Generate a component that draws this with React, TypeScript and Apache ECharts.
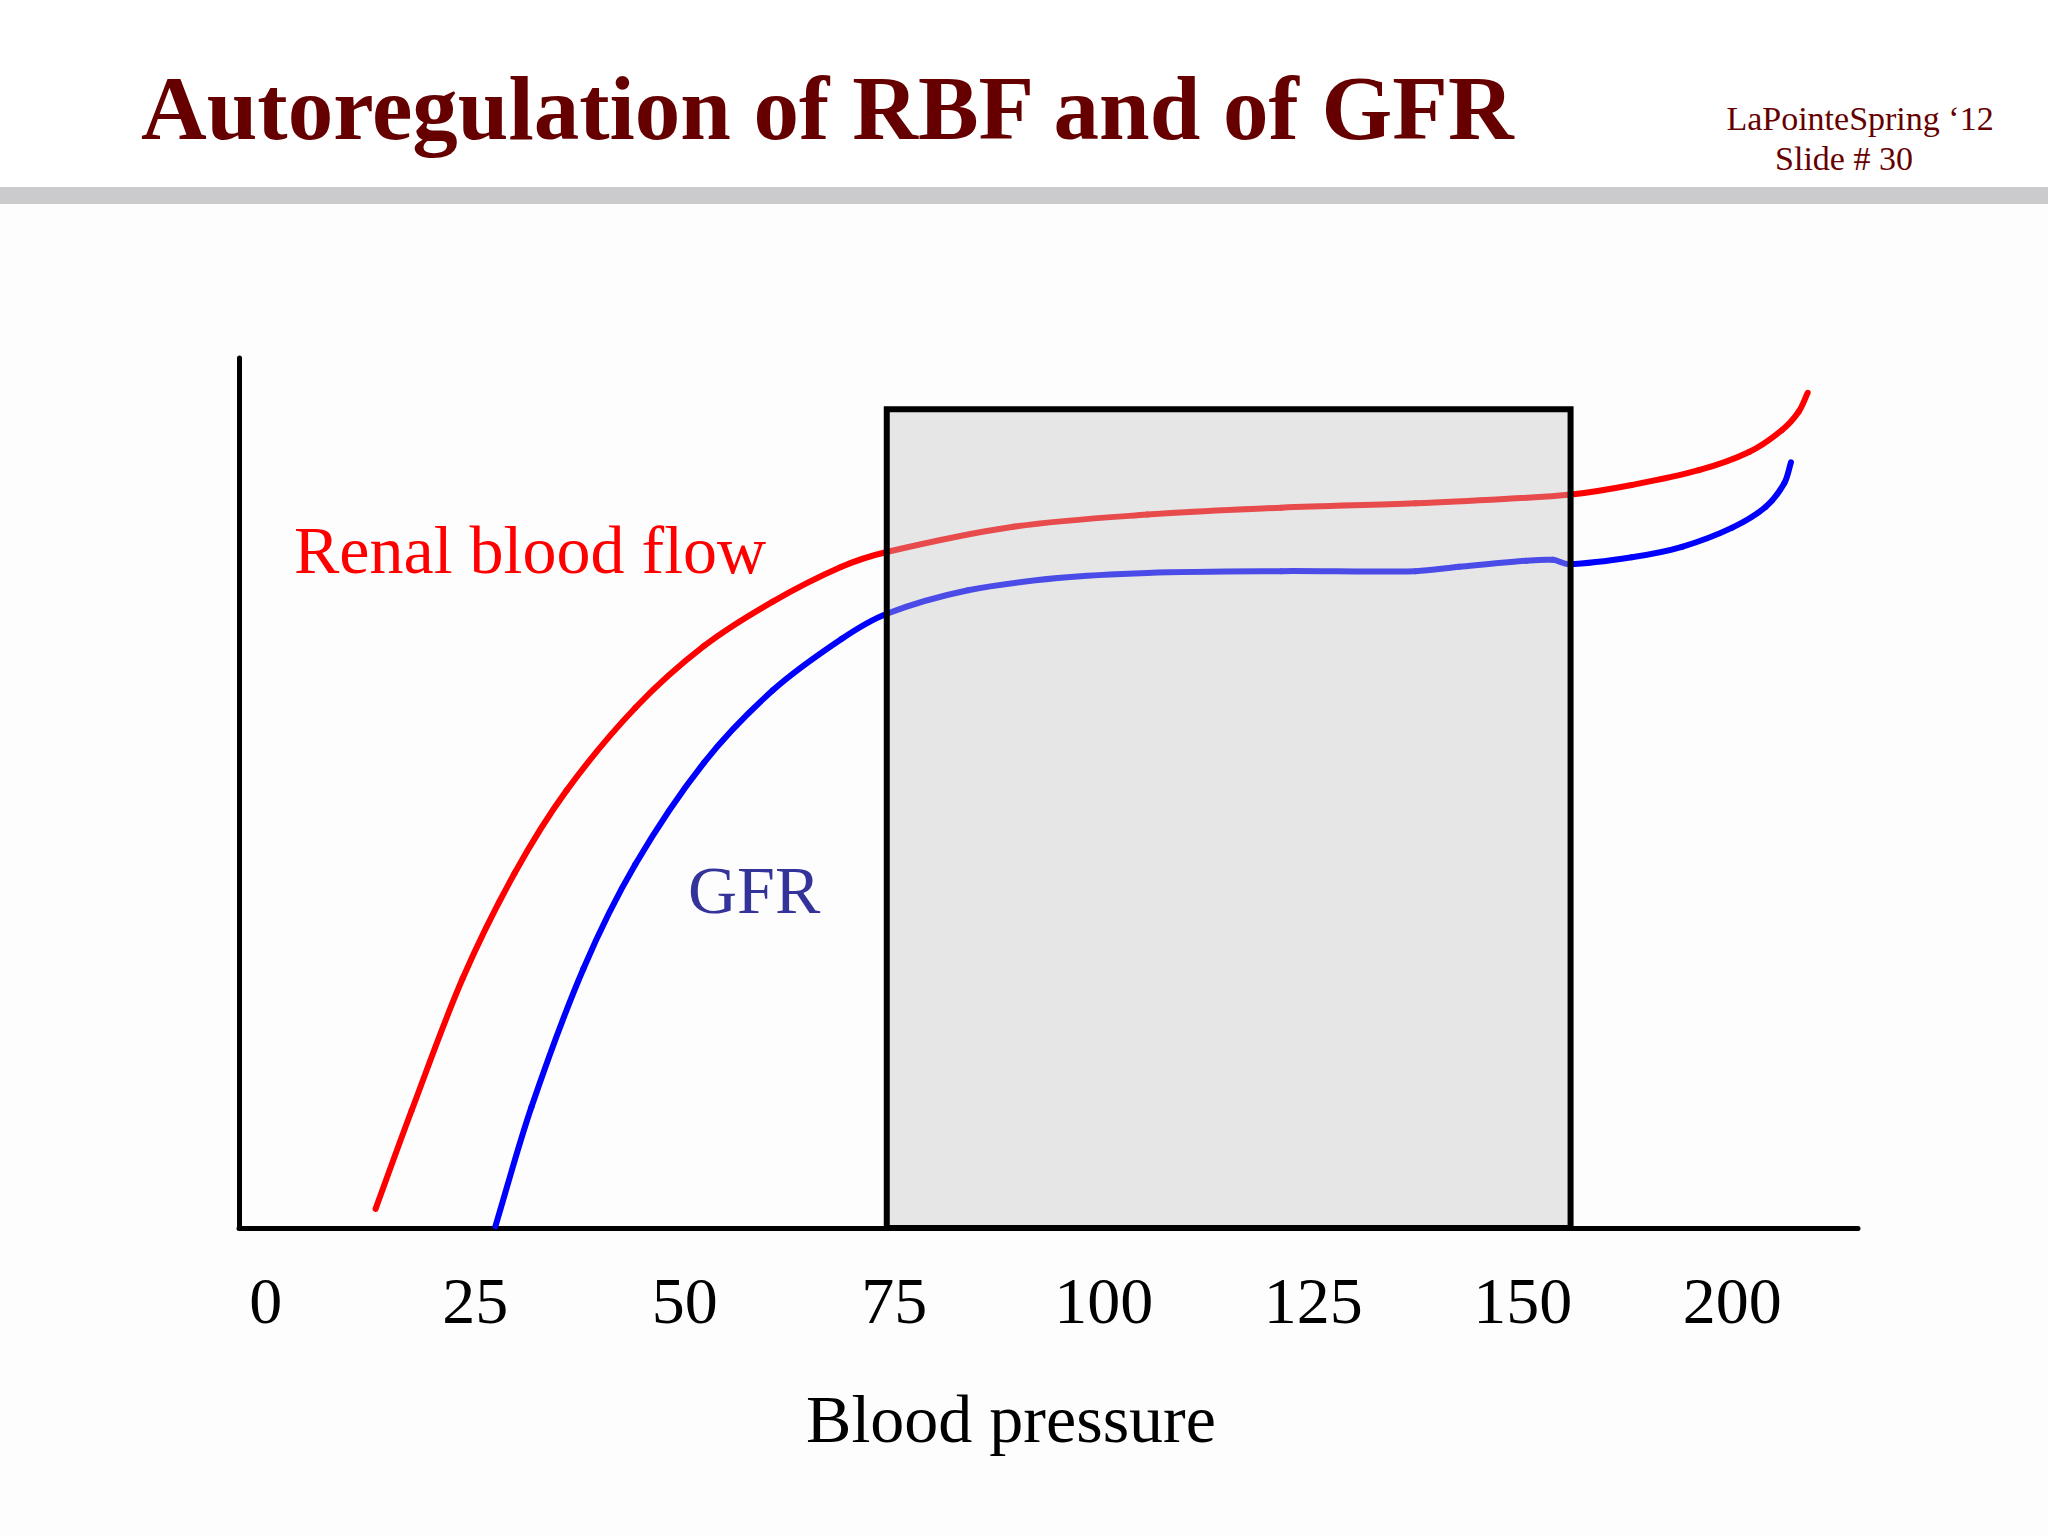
import React, { useEffect, useRef } from "react";
import * as echarts from "echarts";

// Blood-pressure axis: tick positions and the labels printed under them
const xTicks = [0, 25, 50, 75, 100, 125, 150, 175];
const xTickLabels = ["0", "25", "50", "75", "100", "125", "150", "200"];

// Renal blood flow curve (pressure, relative flow)
const rbfPressure = [13.1, 17.4, 23.5, 29.7, 35.9, 44.1, 52.3, 60.5, 68.7, 74.1, 89.2, 105.2, 121.2, 137.2, 147.8, 155.8, 163.0, 171.0, 177.0, 180.9, 182.9, 184.0];
const rbfFlow = [2.2, 13.5, 28.7, 40.8, 50.3, 59.8, 66.9, 72.0, 76.0, 77.7, 80.6, 82.0, 82.8, 83.3, 83.8, 84.3, 85.4, 87.1, 89.2, 91.7, 93.8, 96.0];

// Glomerular filtration rate curve (pressure, relative rate)
const gfrPressure = [27.4, 31.7, 37.9, 44.1, 52.3, 60.5, 68.7, 74.1, 83.8, 94.5, 105.2, 121.2, 137.2, 142.4, 150.4, 153.6, 155.5, 163.0, 169.0, 175.0, 179.0, 181.2, 182.0];
const gfrRate = [0.2, 13.9, 29.8, 41.8, 53.5, 61.8, 67.7, 70.6, 73.3, 74.7, 75.3, 75.5, 75.5, 76.0, 76.7, 76.8, 76.3, 77.1, 78.3, 80.5, 82.9, 85.6, 88.0];

// Autoregulatory range (pressure from / to, box height)
const autoregRange = [74.1, 155.7, 94.1];

const SERIF = "'Liberation Serif', 'Times New Roman', serif";
const DARK_RED = "#660000";

// Renders one curve segment (point i -> i+1) as a cubic Bezier whose control
// points follow a length-weighted Catmull-Rom tangent, giving a smooth stroke.
function smoothCurveRenderer(points: number[][], color: string) {
  return (params: any, api: any) => {
    const i = params.dataIndex;
    const n = points.length;
    if (i >= n - 1) return null;
    const px = points.map((p) => api.coord(p));
    const p0 = px[Math.max(i - 1, 0)];
    const p1 = px[i];
    const p2 = px[i + 1];
    const p3 = px[Math.min(i + 2, n - 1)];
    const dist = (a: number[], b: number[]) => Math.hypot(b[0] - a[0], b[1] - a[1]);
    const d01 = dist(p0, p1);
    const d12 = dist(p1, p2);
    const d23 = dist(p2, p3);
    const k = 1 / 3;
    const r1 = d01 + d12 > 0 ? d12 / (d01 + d12) : 0.5;
    const r2 = d12 + d23 > 0 ? d12 / (d12 + d23) : 0.5;
    const t1x = (p2[0] - p0[0]) * k * r1;
    const t1y = (p2[1] - p0[1]) * k * r1;
    const t2x = (p3[0] - p1[0]) * k * r2;
    const t2y = (p3[1] - p1[1]) * k * r2;
    return {
      type: "bezierCurve",
      shape: {
        x1: p1[0],
        y1: p1[1],
        cpx1: p1[0] + t1x,
        cpy1: p1[1] + t1y,
        cpx2: p2[0] - t2x,
        cpy2: p2[1] - t2y,
        x2: p2[0],
        y2: p2[1],
      },
      style: { stroke: color, lineWidth: 6, fill: null, lineCap: "round" },
    };
  };
}

export default function App() {
  const ref = useRef<HTMLDivElement>(null);

  useEffect(() => {
    if (!ref.current) return;
    const chart = echarts.init(ref.current, null, { renderer: "svg" });

    const rbfData = rbfPressure.map((x, i) => [x, rbfFlow[i]]);
    const gfrData = gfrPressure.map((x, i) => [x, gfrRate[i]]);

    chart.setOption({
      animation: false,
      backgroundColor: "#ffffff",
      grid: {
        left: 239,
        top: 358,
        width: 1619,
        height: 870,
        containLabel: false,
        outerBoundsMode: "none",
      },
      xAxis: {
        type: "value",
        min: -3.2,
        max: 190,
        name: "Blood pressure",
        nameLocation: "middle",
        nameGap: 157,
        nameTextStyle: {
          fontFamily: SERIF,
          fontSize: 68,
          color: "#000000",
          padding: [0, 75, 0, 0],
        },
        axisLine: { show: true, onZero: false, lineStyle: { color: "#000000", width: 5 } },
        axisTick: { show: false },
        splitLine: { show: false },
        axisLabel: {
          customValues: xTicks,
          margin: 39,
          fontFamily: SERIF,
          fontSize: 66,
          color: "#000000",
          formatter: (v: number) => {
            const i = xTicks.indexOf(v);
            return i >= 0 ? xTickLabels[i] : "";
          },
        },
      },
      yAxis: {
        type: "value",
        min: 0,
        max: 100,
        axisLine: { show: true, onZero: false, lineStyle: { color: "#000000", width: 5 } },
        axisTick: { show: false },
        axisLabel: { show: false },
        splitLine: { show: false },
      },
      series: [
        {
          name: "Renal blood flow",
          type: "custom",
          data: rbfData,
          encode: { x: 0, y: 1 },
          renderItem: smoothCurveRenderer(rbfData, "#ff0000"),
          z: 2,
        },
        {
          name: "GFR",
          type: "custom",
          data: gfrData,
          encode: { x: 0, y: 1 },
          renderItem: smoothCurveRenderer(gfrData, "#0000ff"),
          z: 2,
        },
        {
          name: "Autoregulatory range",
          type: "custom",
          z: 5,
          data: [autoregRange],
          renderItem: (params: any, api: any) => {
            const p0 = api.coord([api.value(0), api.value(2)]);
            const p1 = api.coord([api.value(1), 0]);
            return {
              type: "rect",
              shape: { x: p0[0], y: p0[1], width: p1[0] - p0[0], height: p1[1] - p0[1] },
              style: {
                fill: "rgba(192,192,197,0.39)",
                stroke: "#000000",
                lineWidth: 6,
              },
            };
          },
        },
      ],
      graphic: [
        {
          type: "rect",
          z: -10,
          shape: { x: 0, y: 204, width: 2048, height: 1332 },
          style: { fill: "#fdfdfd" },
        },
        {
          type: "rect",
          z: -5,
          shape: { x: 0, y: 187, width: 2048, height: 17 },
          style: { fill: "#cbcacd" },
        },
        {
          type: "text",
          x: 141,
          y: 108,
          style: {
            text: "Autoregulation of RBF and of GFR",
            fontFamily: SERIF,
            fontWeight: "bold",
            fontSize: 91,
            fill: DARK_RED,
            textAlign: "left",
            textVerticalAlign: "middle",
          },
        },
        {
          type: "text",
          x: 1860,
          y: 118,
          style: {
            text: "LaPointeSpring \u201812",
            fontFamily: SERIF,
            fontSize: 34,
            fill: DARK_RED,
            textAlign: "center",
            textVerticalAlign: "middle",
          },
        },
        {
          type: "text",
          x: 1844,
          y: 158,
          style: {
            text: "Slide # 30",
            fontFamily: SERIF,
            fontSize: 34,
            fill: DARK_RED,
            textAlign: "center",
            textVerticalAlign: "middle",
          },
        },
        {
          type: "text",
          x: 294,
          y: 550,
          style: {
            text: "Renal blood flow",
            fontFamily: SERIF,
            fontSize: 68,
            fill: "#ff0000",
            textAlign: "left",
            textVerticalAlign: "middle",
          },
        },
        {
          type: "text",
          x: 688,
          y: 890,
          style: {
            text: "GFR",
            fontFamily: SERIF,
            fontSize: 68,
            fill: "#333399",
            textAlign: "left",
            textVerticalAlign: "middle",
          },
        },
      ],
    });

    return () => chart.dispose();
  }, []);

  return (
    <div
      ref={ref}
      style={{ position: "fixed", left: 0, top: 0, width: 2048, height: 1536 }}
    />
  );
}
